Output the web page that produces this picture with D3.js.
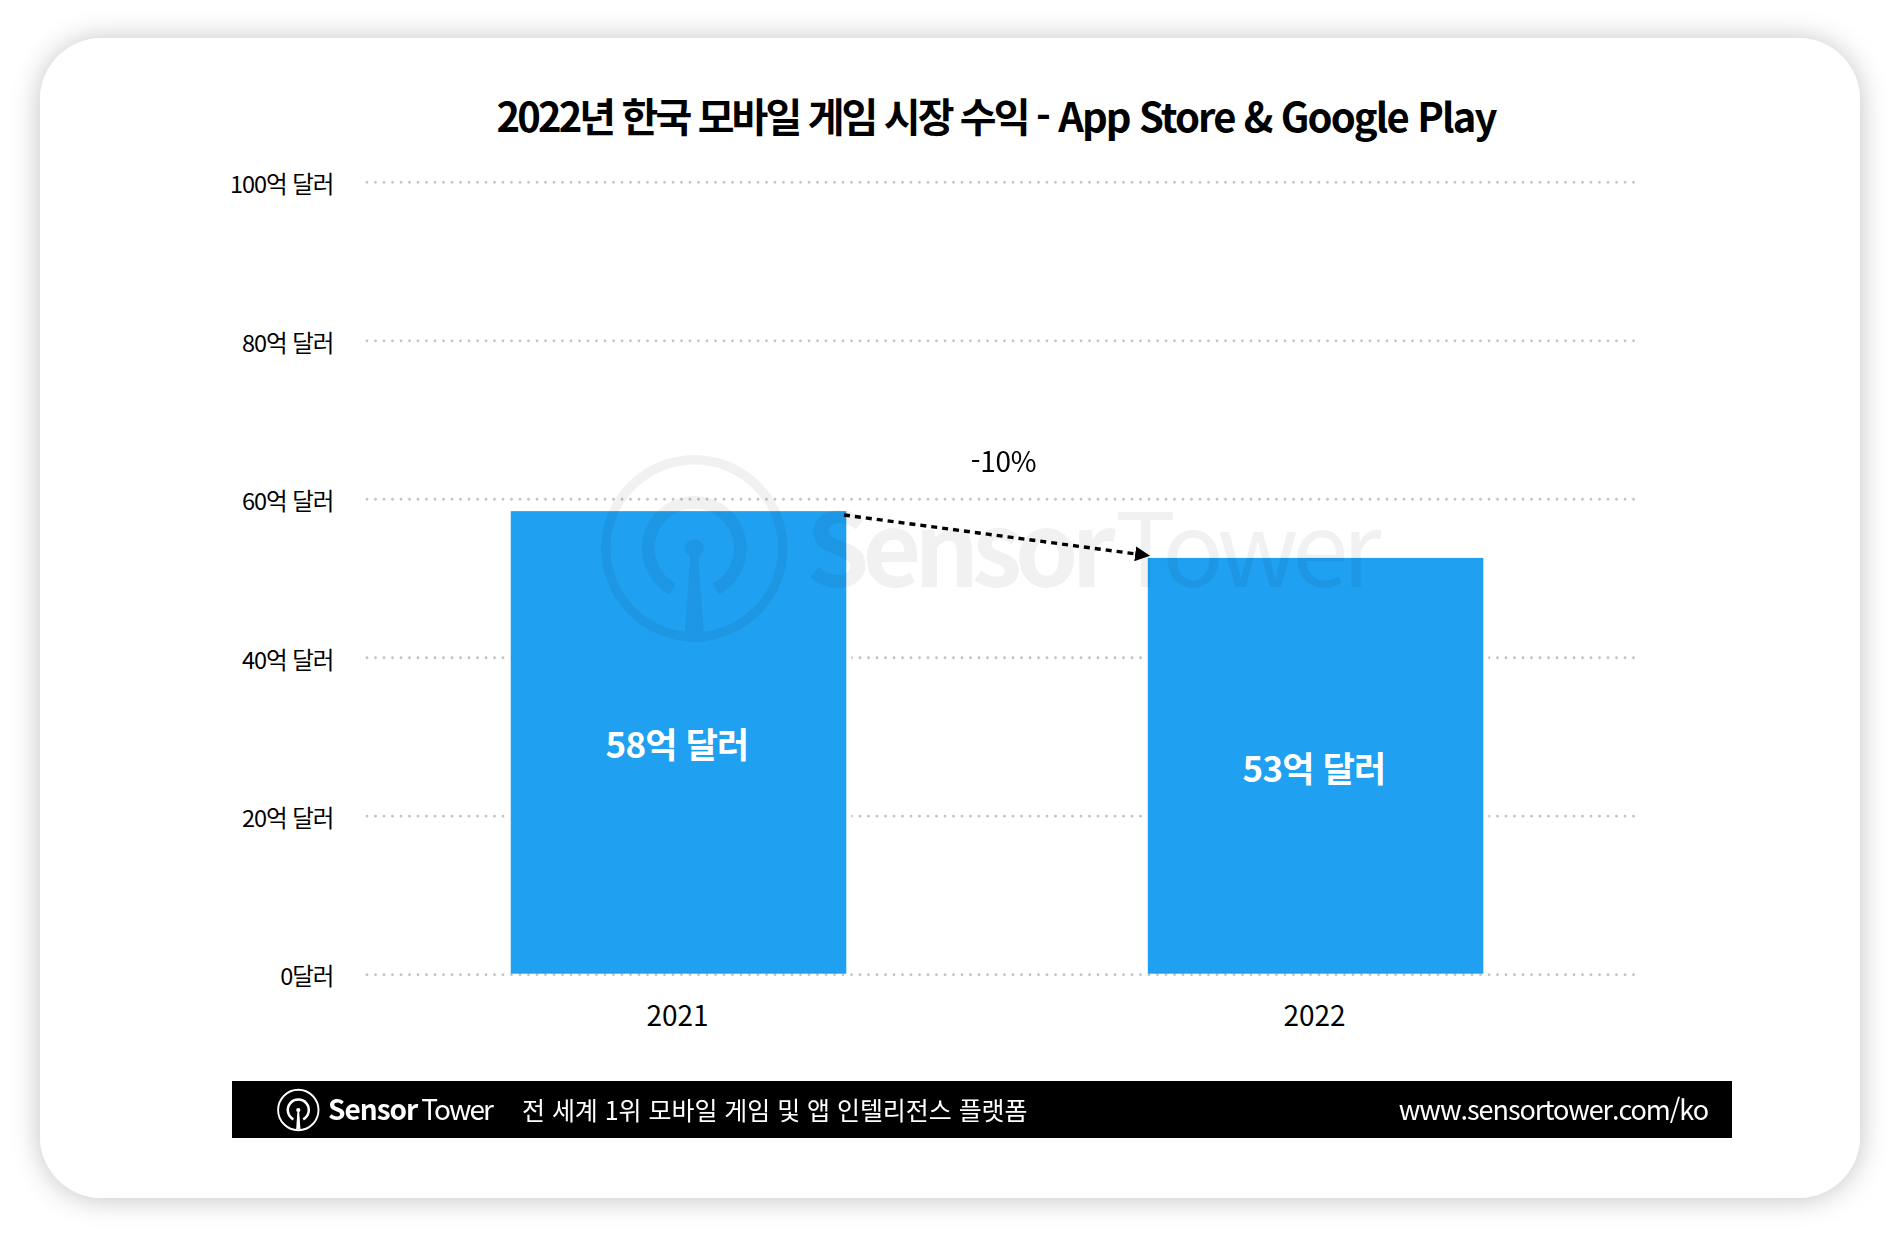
<!DOCTYPE html>
<html lang="ko">
<head>
<meta charset="UTF-8">
<title>2022 Korea mobile game revenue</title>
<script src="https://d3js.org/d3.v7.min.js"></script>
<style>
  html, body { margin: 0; padding: 0; background: #fff; }
  svg { display: block; }
  text { font-family: "Noto Sans CJK KR", "Noto Sans", sans-serif; }
</style>
</head>
<body>
<script>
var years = ["2021", "2022"];
var revenue = [58.5, 52.6];
var barLabels = ["58억 달러", "53억 달러"];
var yTicks = [0, 20, 40, 60, 80, 100];
var yTickLabels = ["0달러", "20억 달러", "40억 달러", "60억 달러", "80억 달러", "100억 달러"];
var titleKo = "2022년 한국 모바일 게임 시장 수익 ";
var titleEn = "- App Store & Google Play";
var change = "-10%";
var footerText = "전 세계 1위 모바일 게임 및 앱 인텔리전스 플랫폼";
var footerUrl = "www.sensortower.com/ko";

var width = 1900, height = 1241;

var svg = d3.select("body").append("svg")
    .attr("width", width)
    .attr("height", height);

var defs = svg.append("defs");

var shadow = defs.append("filter")
    .attr("id", "cardShadow")
    .attr("x", "-10%").attr("y", "-10%")
    .attr("width", "120%").attr("height", "120%");
shadow.append("feDropShadow")
    .attr("dx", 0).attr("dy", 1)
    .attr("stdDeviation", 14)
    .attr("flood-color", "#000")
    .attr("flood-opacity", 0.24);

defs.append("marker")
    .attr("id", "arrowHead")
    .attr("markerUnits", "userSpaceOnUse")
    .attr("viewBox", "0 0 14 14")
    .attr("refX", 13).attr("refY", 7)
    .attr("markerWidth", 15).attr("markerHeight", 15)
    .attr("orient", "auto")
    .append("path")
    .attr("d", "M0,0L14,7L0,14Z")
    .attr("fill", "#000");

// card
svg.append("rect")
    .attr("x", 40).attr("y", 38)
    .attr("width", 1820).attr("height", 1160)
    .attr("rx", 62).attr("ry", 62)
    .attr("fill", "#fff")
    .attr("filter", "url(#cardShadow)");

// hangul runs tighter than the latin part in the original
var titleText = svg.append("text")
    .attr("x", 996).attr("y", 132)
    .attr("text-anchor", "middle")
    .attr("font-size", 40)
    .attr("font-weight", 700)
    .attr("fill", "#000");
titleText.append("tspan").attr("letter-spacing", -2.9).text(titleKo);
titleText.append("tspan").attr("letter-spacing", -1.9).text(titleEn);

var y = d3.scaleLinear().domain([0, 100]).range([974.7, 182.3]);
var x = d3.scaleBand().domain(years)
    .range([366.6, 1627.5])
    .paddingInner(0.4733)
    .paddingOuter(0.2263);

// grid lines sit under the bars
var grid = svg.append("g");
grid.selectAll("line")
    .data(yTicks)
    .enter()
    .append("line")
    .attr("x1", 367)
    .attr("x2", 1634)
    .attr("y1", function (d) { return y(d); })
    .attr("y2", function (d) { return y(d); })
    .attr("stroke", "#c2c2c2")
    .attr("stroke-width", 2.8)
    .attr("stroke-linecap", "round")
    .attr("stroke-dasharray", "0.01 8.49");

var yAxis = d3.axisLeft(y)
    .tickValues(yTicks)
    .tickSize(0)
    .tickPadding(0)
    .tickFormat(function (d, i) { return yTickLabels[i]; });

var yG = svg.append("g")
    .attr("transform", "translate(333.5,0.4)")
    .call(yAxis);
yG.select(".domain").remove();
yG.selectAll("text")
    .attr("font-size", 23.5)
    .attr("letter-spacing", -1)
    .attr("fill", "#000")
    .attr("dy", "0.42em")
    .style("font-family", '"Noto Sans CJK KR", sans-serif');

// bars, with white gutters around them where the gridlines stop
svg.append("g").selectAll("rect")
    .data(years)
    .enter()
    .append("rect")
    .attr("x", function (d) { return x(d) - 5; })
    .attr("y", function (d, i) { return y(revenue[i]); })
    .attr("width", x.bandwidth() + 10)
    .attr("height", function (d, i) { return y(0) - y(revenue[i]) - 3; })
    .attr("fill", "#fff");

svg.append("g").selectAll("rect")
    .data(years)
    .enter()
    .append("rect")
    .attr("x", function (d) { return x(d); })
    .attr("y", function (d, i) { return y(revenue[i]); })
    .attr("width", x.bandwidth())
    .attr("height", function (d, i) { return y(0) - y(revenue[i]) - 1; })
    .attr("fill", "#1fa0f1");

svg.append("g").selectAll("text")
    .data(years)
    .enter()
    .append("text")
    .attr("x", function (d) { return x(d) + x.bandwidth() / 2 - 1.5; })
    .attr("y", function (d, i) { return (y(revenue[i]) + y(0)) / 2 + 15.5; })
    .attr("text-anchor", "middle")
    .attr("font-size", 35)
    .attr("font-weight", 700)
    .attr("letter-spacing", -0.8)
    .attr("fill", "#fff")
    .text(function (d, i) { return barLabels[i]; });

var xAxis = d3.axisBottom(x).tickSize(0).tickPadding(0);
var xG = svg.append("g")
    .attr("transform", "translate(-1,1026)")
    .call(xAxis);
xG.select(".domain").remove();
xG.selectAll("text")
    .attr("font-size", 28)
    .attr("fill", "#000")
    .attr("dy", 0)
    .style("font-family", '"Noto Sans CJK KR", sans-serif');

// r is the ring radius, sw the ring width, the rest scales off those
function logo(g, cx, cy, r, color, sw) {
    var t = g.append("g").attr("transform", "translate(" + cx + "," + cy + ")");
    t.append("circle").attr("r", r)
        .attr("fill", "none").attr("stroke", color).attr("stroke-width", sw);
    var arc = d3.arc()
        .innerRadius(r * 0.52 - sw * 0.67)
        .outerRadius(r * 0.52 + sw * 0.67)
        .startAngle(-Math.PI * 0.845)
        .endAngle(Math.PI * 0.845);
    t.append("path").attr("d", arc).attr("fill", color);
    t.append("circle").attr("r", r * 0.105).attr("fill", color);
    t.append("path")
        .attr("d", d3.line()([
            [-r * 0.04, 0], [r * 0.04, 0],
            [r * 0.107, r * 0.95], [-r * 0.107, r * 0.95]
        ]))
        .attr("fill", color);
}

// watermark goes over the bars, very faint
var mark = svg.append("g").attr("opacity", 0.055);
logo(mark, 694.3, 548.3, 88.5, "#000", 9.5);
var markText = mark.append("text")
    .attr("x", 806).attr("y", 587)
    .attr("font-size", 102)
    .attr("fill", "#000");
markText.append("tspan").attr("font-weight", 700).attr("letter-spacing", -7.5).text("Sensor");
markText.append("tspan").attr("font-weight", 400).attr("letter-spacing", -6.5).attr("dx", 7).text("Tower");

// change arrow
svg.append("line")
    .attr("x1", 844).attr("y1", 515)
    .attr("x2", 1149).attr("y2", 555.7)
    .attr("stroke", "#000")
    .attr("stroke-width", 3.4)
    .attr("stroke-dasharray", "6 5")
    .attr("marker-end", "url(#arrowHead)");

svg.append("text")
    .attr("x", 1003.5).attr("y", 472)
    .attr("text-anchor", "middle")
    .attr("font-size", 28)
    .attr("letter-spacing", -0.3)
    .attr("fill", "#000")
    .text(change);

// footer
svg.append("rect")
    .attr("x", 232).attr("y", 1081)
    .attr("width", 1500).attr("height", 57)
    .attr("fill", "#000");

var foot = svg.append("g");
logo(foot, 298.3, 1110, 20.2, "#fff", 1.9);
var footLogo = foot.append("text")
    .attr("x", 328).attr("y", 1120)
    .attr("font-size", 28)
    .attr("fill", "#fff");
footLogo.append("tspan").attr("font-weight", 700).attr("letter-spacing", -1).text("Sensor");
footLogo.append("tspan").attr("font-weight", 400).attr("letter-spacing", -1.9).attr("dx", 4).text("Tower");

foot.append("text")
    .attr("x", 522).attr("y", 1120)
    .attr("font-size", 25)
    .attr("letter-spacing", -0.05)
    .attr("fill", "#fff")
    .text(footerText);

foot.append("text")
    .attr("x", 1708).attr("y", 1120)
    .attr("text-anchor", "end")
    .attr("font-size", 27)
    .attr("letter-spacing", -1.05)
    .attr("fill", "#fff")
    .text(footerUrl);
</script>
</body>
</html>
